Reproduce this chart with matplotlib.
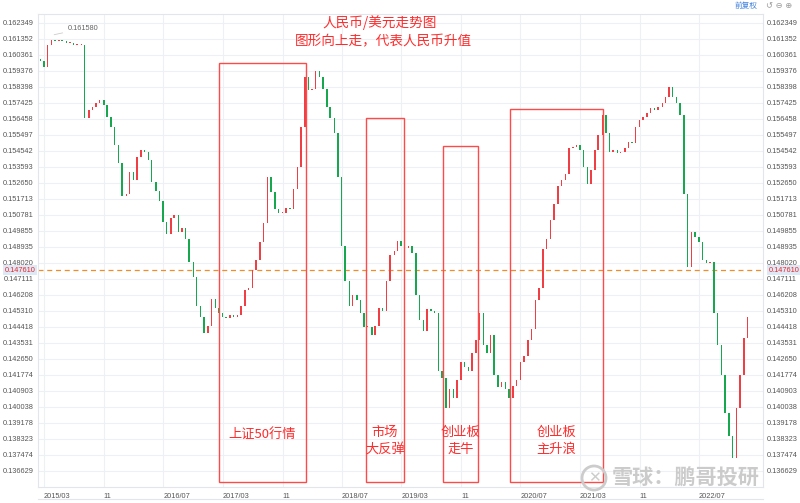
import matplotlib
matplotlib.use('Agg')
import matplotlib.pyplot as plt
import matplotlib.dates as mdates
from matplotlib.patches import Rectangle, Circle
from matplotlib.lines import Line2D
import numpy as np
import pandas as pd

# semi-monthly closes (1st / 15th)
close_2015 = [0.1600, 0.1596, 0.1610, 0.1613, 0.1612, 0.1613, 0.1612, 0.1611, 0.1611,
              0.1610, 0.1610, 0.1610, 0.1565, 0.1570, 0.1572, 0.1574, 0.1576, 0.1573,
              0.1566, 0.1560, 0.1549]
close_2016 = [0.1538, 0.1519, 0.1520, 0.1533, 0.1528, 0.1542, 0.1546, 0.1545, 0.1540,
              0.1527, 0.1522, 0.1516, 0.1504, 0.1497, 0.1506, 0.1508, 0.1498, 0.1500,
              0.1494, 0.1481, 0.1472, 0.1456, 0.1450, 0.1441]
close_2017 = [0.1445, 0.1460, 0.1455, 0.1452, 0.1450, 0.1449, 0.1451, 0.1450, 0.1451,
              0.1456, 0.1465, 0.1466, 0.1476, 0.1482, 0.1492, 0.1503, 0.1530, 0.1521,
              0.1511, 0.1509, 0.1509, 0.1512, 0.1511, 0.1523]
close_2018 = [0.1536, 0.1560, 0.1590, 0.1582, 0.1583, 0.1594, 0.1590, 0.1583, 0.1572,
              0.1565, 0.1556, 0.1530, 0.1490, 0.1470, 0.1456, 0.1462, 0.1459, 0.1452,
              0.1444, 0.1444, 0.1440, 0.1445, 0.1455, 0.1453]
close_2019 = [0.1470, 0.1485, 0.1487, 0.1493, 0.1490, 0.1489, 0.1490, 0.1486, 0.1462,
              0.1448, 0.1442, 0.1454, 0.1453, 0.1452, 0.1420, 0.1416, 0.1400, 0.1410,
              0.1405, 0.1415, 0.1425, 0.1422, 0.1420, 0.1430]
close_2020 = [0.1437, 0.1452, 0.1434, 0.1430, 0.1440, 0.1418, 0.1411, 0.1414, 0.1410,
              0.1405, 0.1412, 0.1415, 0.1425, 0.1428, 0.1437, 0.1443, 0.1459, 0.1466,
              0.1488, 0.1494, 0.1505, 0.1514, 0.1525, 0.1528]
close_2021 = [0.1532, 0.1547, 0.1548, 0.1549, 0.1546, 0.1536, 0.1526, 0.1534, 0.1546,
              0.1555, 0.1567, 0.1556, 0.1545, 0.1546, 0.1544, 0.1545, 0.1547, 0.1551,
              0.1550, 0.1560, 0.1564, 0.1566, 0.1568, 0.1571]
close_2022 = [0.1570, 0.1572, 0.1574, 0.1578, 0.1584, 0.1578, 0.1574, 0.1567, 0.1520,
              0.1478, 0.1498, 0.1495, 0.1492, 0.1482, 0.1480, 0.1481, 0.1452, 0.1434,
              0.1418, 0.1397, 0.1385, 0.1373, 0.1400, 0.1418]
close_2023 = [0.1438, 0.1450]
first_open = 0.1601
peak_high = 0.161580
last_price = 0.147610

tick_dates = ['2015-03-01', '2015-11-01', '2016-07-01', '2017-03-01', '2017-11-01', '2018-07-01',
              '2019-03-01', '2019-11-01', '2020-07-01', '2021-03-01', '2021-11-01', '2022-07-01']
tick_labels = ['2015/03', '11', '2016/07', '2017/03', '11', '2018/07',
               '2019/03', '11', '2020/07', '2021/03', '11', '2022/07']
y_ticks = [0.162349, 0.161352, 0.160361, 0.159376, 0.158398, 0.157425, 0.156458, 0.155497,
           0.154542, 0.153593, 0.152650, 0.151713, 0.150781, 0.149855, 0.148935, 0.148020,
           0.147111, 0.146208, 0.145310, 0.144418, 0.143531, 0.142650, 0.141774, 0.140903,
           0.140038, 0.139178, 0.138323, 0.137474, 0.136629]

box_starts = ['2017-02-16', '2018-10-09', '2019-08-20', '2020-05-19']
box_ends = ['2018-02-03', '2019-03-12', '2020-01-10', '2021-06-04']
box_tops = [0.15987, 0.15650, 0.15484, 0.15707]
box_labels = ['上证50行情', '市场\n大反弹', '创业板\n走牛', '创业板\n主升浪']
box_bottom = 0.13603

title_lines = ['人民币/美元走势图', '图形向上走，代表人民币升值']
watermark = '雪球：鹏哥投研'

RED = '#ef3f45'
GREEN = '#17a84f'
TXT_RED = '#ff2b2b'
CJK = ['Noto Sans CJK SC', 'DejaVu Sans']
plt.rcParams['font.family'] = ['Liberation Sans', 'DejaVu Sans']

closes = np.array(close_2015 + close_2016 + close_2017 + close_2018 + close_2019 +
                  close_2020 + close_2021 + close_2022 + close_2023)
opens = np.r_[first_open, closes[:-1]]
dates = pd.date_range('2015-02-15', periods=len(closes), freq='SMS')
xd = mdates.date2num(dates)

W, H = 800, 503
fig = plt.figure(figsize=(W / 100, H / 100), dpi=100)
ax = fig.add_axes([38 / W, 1 - 487 / H, (763 - 38) / W, (487 - 14) / H])
ax.set_yscale('log')
ax.set_ylim(0.13579, 0.16291)
ax.set_xlim(mdates.datestr2num('2015-02-05'), mdates.datestr2num('2023-03-20'))

# candles: body from previous close to close
lo = np.minimum(opens, closes)
hi = np.maximum(np.maximum(opens, closes), lo * 1.0004)
up = closes >= opens
ax.bar(xd[up], (hi - lo)[up], bottom=lo[up], width=6, color=RED, linewidth=0, zorder=3)
ax.bar(xd[~up], (hi - lo)[~up], bottom=lo[~up], width=6, color=GREEN, linewidth=0, zorder=3)

# axes styling
ax.set_yticks(y_ticks)
ax.set_yticklabels(['%.6f' % v for v in y_ticks])
ax.yaxis.set_minor_locator(matplotlib.ticker.NullLocator())
ax.set_xticks(mdates.datestr2num(tick_dates))
ax.set_xticklabels(tick_labels, ha='left')
ax.tick_params(axis='y', length=0, labelsize=5.3, labelcolor='#555555',
               labelleft=True, labelright=True, pad=3)
ax.tick_params(axis='x', length=0, labelsize=5.3, labelcolor='#555555', pad=4)
ax.grid(color='#edf0f4', linewidth=0.8, zorder=0)
for s in ax.spines.values():
    s.set_color('#e2e6eb')
    s.set_linewidth(0.8)
fig.add_artist(Line2D([38 / W, 763 / W], [1 - 499 / H] * 2, color='#e2e6eb', lw=0.8))

# current price line and labels
ax.axhline(last_price, color='#f28c28', ls=(0, (4, 3)), lw=0.9, zorder=2)
for xa, ha, off in [(0, 'right', -2), (1, 'left', 4)]:
    ax.annotate('%.6f' % last_price, xy=(xa, last_price), xycoords=ax.get_yaxis_transform(),
                xytext=(off, 0), textcoords='offset points', ha=ha, va='center',
                fontsize=5.3, color='#ee2222', annotation_clip=False,
                bbox=dict(fc='#dde9f7', ec='none', pad=1.2))

# peak annotation
i_pk = int(np.argmax(closes))
ax.annotate('%.6f' % peak_high, xy=(xd[i_pk], peak_high), xytext=(12, 5),
            textcoords='offset points', fontsize=5.3, color='#666666', va='center',
            arrowprops=dict(arrowstyle='-', color='#cccccc', lw=0.6))

# boxes with notes
for s, e, top, lab in zip(box_starts, box_ends, box_tops, box_labels):
    x0, x1 = mdates.datestr2num(s), mdates.datestr2num(e)
    ax.add_patch(Rectangle((x0, box_bottom), x1 - x0, top - box_bottom, fill=False,
                           ec='#ff4a4a', lw=1.0, zorder=4))
    ypos = 0.097 if '\n' in lab else 0.112
    ax.text((x0 + x1) / 2, ypos, lab, transform=ax.get_xaxis_transform(), ha='center',
            va='center', color=TXT_RED, fontsize=9.5, family=CJK, linespacing=1.35, zorder=5)

# title lines
fig.text(380 / W, 1 - 23 / H, title_lines[0], ha='center', va='center', color=TXT_RED,
         fontsize=9.8, family=CJK)
fig.text(383 / W, 1 - 41 / H, title_lines[1], ha='center', va='center', color=TXT_RED,
         fontsize=9.8, family=CJK)

# top-right toolbar
fig.text(746 / W, 1 - 6 / H, '前复权', ha='center', va='center', color='#3b7fdc',
         fontsize=5.5, family=CJK)
fig.text(779 / W, 1 - 6 / H, '↺ ⊖ ⊕', ha='center', va='center', color='#999999',
         fontsize=6, family=['DejaVu Sans'])

# watermark
fig.add_artist(Circle((594, H - 478), 12, transform=None, fill=False, ec='#cccccc', lw=2))
fig.text(594 / W, 1 - 478 / H, '✕', ha='center', va='center', color='#cccccc',
         fontsize=11, family=['DejaVu Sans'])
fig.text(612 / W, 1 - 478 / H, watermark, ha='left', va='center', color='#c6c6c6',
         fontsize=15.2, fontweight='bold', family=CJK, alpha=0.9)

fig.savefig('out.png', dpi=100)
